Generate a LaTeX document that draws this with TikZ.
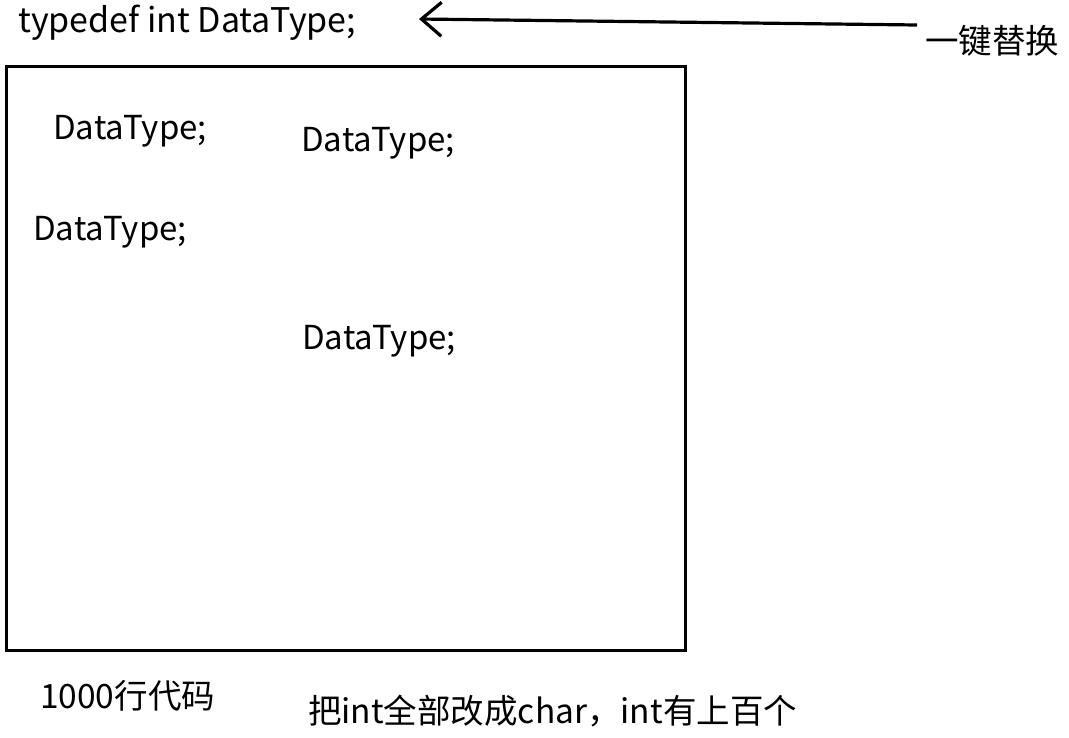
\documentclass[tikz,border=0pt]{standalone}
\usepackage{fontspec}
\setmainfont{Noto Sans CJK SC}
\usetikzlibrary{arrows.meta}

\begin{document}
\begin{tikzpicture}[x=1pt, y=-1pt,
every node/.style={inner sep=0 pt, anchor=west},
code/.style={font={\fontsize{33}{38}\selectfont}},
note/.style={font={\fontsize{33.5}{38}\selectfont}},
]

\useasboundingbox (0,0) rectangle (1069,737);

% header and replace arrow
\node[code, font={\fontsize{34}{40}\selectfont}] (head) at (18,23) {typedef int DataType;};
\node[note] (once) at (925,41) {一键替换};
\coordinate (tip) at (419,19);
\draw[line width=3.2pt, -{Straight Barb[length=20pt, width=34pt]}] (917,25) coordinate (tail) -- (tip);

% source file
\draw[line width=3pt] (6,66) rectangle (685,650);

\path
(53,131) node[code] (d1) {DataType;}
(301,143) node[code] (d2) {DataType;}
(33,232) node[code] (d3) {DataType;}
(302,341) node[code] (d4) {DataType;}
;

% notes below
\node[note] (lines) at (40,696) {1000行代码};
\node[note] (todo) at (308,711) {把int全部改成char，int有上百个};

\end{tikzpicture}
\end{document}
